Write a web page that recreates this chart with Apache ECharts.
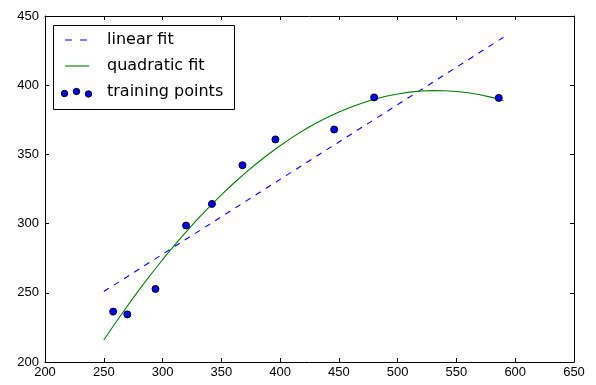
<!DOCTYPE html>
<html>
<head>
<meta charset="utf-8">
<script src="https://cdn.jsdelivr.net/npm/echarts@6/dist/echarts.min.js"></script>
<style>html,body{margin:0;padding:0;background:#fff;}#c{width:596px;height:385px;}</style>
</head>
<body>
<div id="c"></div>
<script>
// training points
var trainX = [258, 270, 294, 320, 342, 368, 396, 446, 480, 586];
var trainY = [236.4, 234.4, 252.8, 298.6, 314.2, 342.2, 360.8, 368.0, 391.2, 390.8];
// linear fit (endpoints)
var linX = [250, 590];
var linY = [250.9, 434.6];
// quadratic fit
var quadX = [250,260,270,280,290,300,310,320,330,340,350,360,370,380,390,400,410,420,430,440,450,460,470,480,490,500,510,520,530,540,550,560,570,580,590];
var quadY = [215.9,228.4,240.4,252.1,263.2,273.9,284.2,294.0,303.4,312.3,320.8,328.8,336.3,343.4,350.1,356.3,362.1,367.4,372.3,376.7,380.6,384.1,387.2,389.8,392.0,393.7,395.0,395.8,396.1,396.0,395.5,394.5,393.1,391.2,388.9];
// axes
var xTicks = {min: 200, max: 650, interval: 50};
var yTicks = {min: 200, max: 450, interval: 50};
var legendNames = ['linear fit', 'quadratic fit', 'training points'];

function zip(a, b) { return a.map(function (v, i) { return [v, b[i]]; }); }

var chart = echarts.init(document.getElementById('c'), null, {renderer: 'canvas'});
var tickFont = {fontFamily: 'Liberation Sans', fontSize: 13, color: '#000'};
function axisBase(pos, showLabel, t, margin) {
  return {
    type: 'value', position: pos, min: t.min, max: t.max, interval: t.interval,
    axisLine: {show: true, onZero: false, lineStyle: {color: '#000', width: 1}},
    axisTick: {show: true, inside: true, length: 4, lineStyle: {color: '#000', width: 1}},
    axisLabel: Object.assign({show: showLabel, margin: margin}, tickFont),
    splitLine: {show: false}
  };
}
var gL = 45, gT = 16, gR = 574, gB = 362;
var legFont = '16px "DejaVu Sans"';
var option = {
  animation: false,
  backgroundColor: '#fff',
  grid: {left: gL, top: gT, width: gR - gL, height: gB - gT, containLabel: false},
  xAxis: [axisBase('bottom', true, xTicks, 4), axisBase('top', false, xTicks, 4)],
  yAxis: [axisBase('left', true, yTicks, 6), axisBase('right', false, yTicks, 6)],
  series: [
    {name: legendNames[0], type: 'line', data: zip(linX, linY), symbol: 'none',
     lineStyle: {color: '#0000ff', width: 1.1, type: [6, 6]}, z: 3},
    {name: legendNames[1], type: 'line', data: zip(quadX, quadY), symbol: 'none', smooth: false,
     lineStyle: {color: '#008000', width: 1.1}, z: 3},
    {name: legendNames[2], type: 'scatter', data: zip(trainX, trainY), symbolSize: 7,
     itemStyle: {color: '#0000ff', borderColor: '#000', borderWidth: 1, opacity: 1}, z: 4}
  ],
  graphic: [
    {type: 'rect', shape: {x: 53.5, y: 25.5, width: 181, height: 84}, style: {fill: '#fff', stroke: '#000', lineWidth: 1}, z: 10},
    {type: 'line', shape: {x1: 65, y1: 40, x2: 89, y2: 40}, style: {stroke: '#0000ff', lineWidth: 1.1, lineDash: [7, 8]}, z: 11},
    {type: 'line', shape: {x1: 65, y1: 66, x2: 89, y2: 66}, style: {stroke: '#008000', lineWidth: 1.1}, z: 11},
    {type: 'circle', shape: {cx: 64.5, cy: 93.5, r: 3.2}, style: {fill: '#0000ff', stroke: '#000', lineWidth: 1}, z: 11},
    {type: 'circle', shape: {cx: 76.5, cy: 91.5, r: 3.2}, style: {fill: '#0000ff', stroke: '#000', lineWidth: 1}, z: 11},
    {type: 'circle', shape: {cx: 88.5, cy: 94, r: 3.2}, style: {fill: '#0000ff', stroke: '#000', lineWidth: 1}, z: 11},
    {type: 'text', x: 107, y: 40, style: {text: legendNames[0], font: legFont, fill: '#000', verticalAlign: 'middle'}, z: 11},
    {type: 'text', x: 107, y: 66, style: {text: legendNames[1], font: legFont, fill: '#000', verticalAlign: 'middle'}, z: 11},
    {type: 'text', x: 107, y: 92, style: {text: legendNames[2], font: legFont, fill: '#000', verticalAlign: 'middle'}, z: 11}
  ]
};
chart.setOption(option);
</script>
</body>
</html>
